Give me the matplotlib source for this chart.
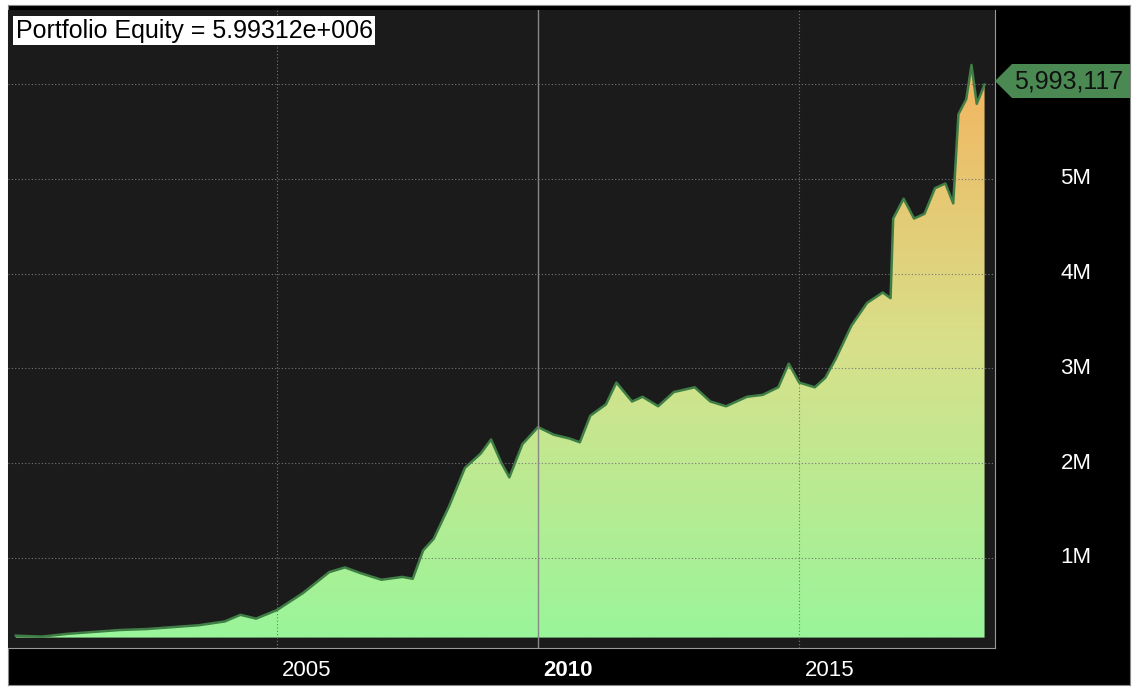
import numpy as np
import matplotlib.pyplot as plt
from matplotlib.patches import Polygon
from matplotlib.colors import LinearSegmentedColormap

# equity curve (year, millions)
years = [2000.0, 2000.5, 2001.0, 2001.5, 2002.0, 2002.5, 2003.0, 2003.5, 2004.0, 2004.3, 2004.6, 2005.0,
         2005.5, 2006.0, 2006.3, 2006.6, 2007.0, 2007.4, 2007.6, 2007.8, 2008.0, 2008.3, 2008.6, 2008.9,
         2009.1, 2009.3, 2009.45, 2009.7, 2010.0, 2010.3, 2010.6, 2010.8, 2011.0, 2011.3, 2011.5, 2011.8,
         2012.0, 2012.3, 2012.6, 2013.0, 2013.3, 2013.6, 2014.0, 2014.3, 2014.6, 2014.8, 2015.0, 2015.3,
         2015.5, 2015.7, 2016.0, 2016.3, 2016.6, 2016.75, 2016.8, 2017.0, 2017.2, 2017.4, 2017.6, 2017.8,
         2017.95, 2018.05, 2018.2, 2018.3, 2018.4, 2018.55]
equity = [0.18, 0.17, 0.2, 0.22, 0.24, 0.25, 0.27, 0.29, 0.33, 0.4, 0.36, 0.45,
          0.63, 0.85, 0.9, 0.84, 0.77, 0.8, 0.78, 1.08, 1.2, 1.55, 1.95, 2.1,
          2.25, 2.0, 1.85, 2.2, 2.38, 2.3, 2.26, 2.22, 2.5, 2.62, 2.85, 2.65,
          2.7, 2.6, 2.75, 2.8, 2.65, 2.6, 2.7, 2.72, 2.8, 3.05, 2.85, 2.8,
          2.9, 3.1, 3.45, 3.69, 3.8, 3.74, 4.58, 4.79, 4.58, 4.63, 4.9, 4.95,
          4.74, 5.68, 5.84, 6.2, 5.79, 5.99312]
grid_levels = [1, 2, 3, 4, 5, 6]
tick_years = [2005, 2010, 2015]
last_value = 5993117

fig = plt.figure(figsize=(11.37, 6.9), dpi=100)
fig.patch.set_facecolor('white')
W, H = 1137, 690
frame = fig.add_axes([8 / W, 5 / H, 1122 / W, 680 / H])
frame.set_facecolor('black')
frame.set_xticks([]); frame.set_yticks([])
for s in frame.spines.values():
    s.set_color('#888888')

x0, x1 = 1999.85, 2018.75
ax = fig.add_axes([8 / W, 42 / H, 987 / W, 638 / H])
ax.set_facecolor('#1b1b1b')
ax.set_xlim(x0, x1)
ax.set_ylim(0.05, 6.78)
base = 0.16

# gradient fill clipped to the equity area
grad = np.linspace(0, 1, 256).reshape(-1, 1)
cmap = LinearSegmentedColormap.from_list('eq', ['#9af59a', '#d8e08a', '#f4b25e'])
img = ax.imshow(grad, cmap=cmap, origin='lower', aspect='auto',
                extent=[x0, x1, base, 6.3], zorder=2)
verts = [(years[0], base)] + list(zip(years, equity)) + [(years[-1], base)]
poly = Polygon(verts, closed=True, facecolor='none', edgecolor='none')
ax.add_patch(poly)
img.set_clip_path(poly)
ax.plot(years, equity, color='#3f7f45', lw=1.8, zorder=3)

for g in grid_levels:
    ax.axhline(g, color='#777777', lw=0.8, ls=(0, (1, 2)), zorder=4)
for y in tick_years:
    if y == 2010:
        ax.axvline(y, color='#888888', lw=1, zorder=4)
    else:
        ax.axvline(y, color='#777777', lw=0.8, ls=(0, (1, 2)), zorder=4)
ax.set_xticks([]); ax.set_yticks([])
for s in ax.spines.values():
    s.set_visible(False)
ax.spines['bottom'].set_visible(True)
ax.spines['bottom'].set_color('#999999')
ax.spines['right'].set_visible(True)
ax.spines['right'].set_color('#999999')

for y in tick_years:
    ax.text(y + 0.1, -0.08, str(y), color='white', fontsize=16, va='top', ha='left',
            fontweight='bold' if y == 2010 else 'normal', family='Liberation Sans', clip_on=False)
for g in grid_levels[:-1]:
    ax.text(2020.3, g, f'{g}M', color='white', fontsize=16, va='center', ha='center',
            family='Liberation Sans', clip_on=False)

ax.text(x0 + 0.15, 6.56, 'Portfolio Equity = 5.99312e+006', color='black', fontsize=18, va='center',
        family='Liberation Sans', bbox=dict(boxstyle='square,pad=0.1', fc='white', ec='none'), zorder=6)

# price label on right axis
tag = fig.add_axes([995 / W, 591 / H, 135 / W, 36 / H])
tag.set_xlim(0, 135); tag.set_ylim(0, 36); tag.axis('off')
tag.add_patch(Polygon([(0, 18), (17, 35), (135, 35), (135, 1), (17, 1)], closed=True,
                      fc='#4a8a52', ec='none'))
t = tag.text(19, 18, f'{last_value:,}', color='#111111', fontsize=18, va='center', ha='left',
             family='Liberation Sans')
t.set_clip_on(True)

fig.savefig('out.png', dpi=100)
